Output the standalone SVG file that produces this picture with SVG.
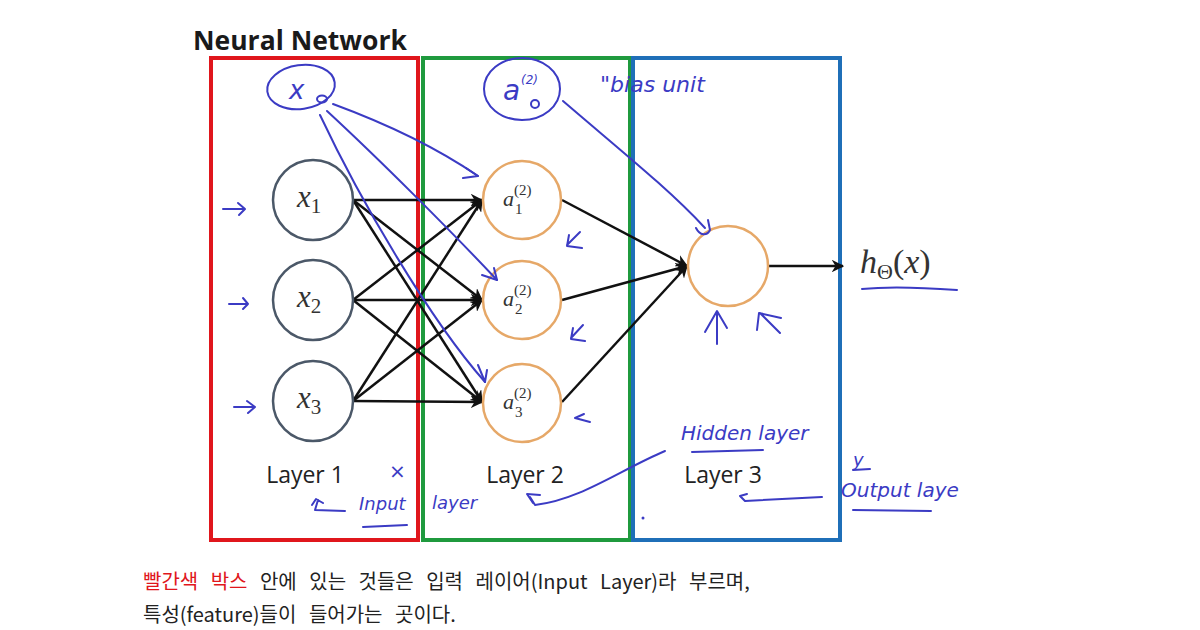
<svg xmlns="http://www.w3.org/2000/svg" width="1200" height="630" viewBox="0 0 1200 630">
<defs>
<style>
.box{fill:none;stroke-width:4}
.inn{fill:#fff;stroke:#4b5868;stroke-width:2.5}
.hid{fill:#fff;stroke:#e6a868;stroke-width:2.5}
.edge{stroke:#111;stroke-width:2.5;fill:none}
.ink{stroke:#3b3bc4;stroke-width:2;fill:none;stroke-linecap:round;stroke-linejoin:round}
.hand{fill:#3b3bc4;font-family:"DejaVu Sans",sans-serif;font-style:italic}
.math{font-family:"Liberation Serif","DejaVu Serif",serif;font-style:italic;fill:#333}
.mathn{font-family:"Liberation Serif","DejaVu Serif",serif;fill:#333}
.lbl{font-family:"Open Sans","Liberation Sans",sans-serif;font-size:23px;fill:#222}
.cap{font-family:"Noto Sans CJK KR","Noto Sans",sans-serif;font-size:20px;fill:#222;word-spacing:8px}
</style>
<marker id="ah" viewBox="0 0 10 10" refX="9" refY="5" markerWidth="5" markerHeight="5" orient="auto" markerUnits="strokeWidth">
<path d="M0,0 L10,5 L0,10 L3,5 z" fill="#111"/>
</marker>
</defs>
<rect width="1200" height="630" fill="#fff"/>
<text x="193" y="50" font-family="Open Sans,Liberation Sans,sans-serif" font-weight="bold" font-size="26.5" fill="#1a1a1a">Neural Network</text>

<g id="boxes">
<rect class="box" x="211" y="58" width="207" height="482" stroke="#e0161c"/>
<rect class="box" x="423" y="58" width="207" height="482" stroke="#1f9a3e"/>
<rect class="box" x="633" y="58" width="207" height="482" stroke="#1f6fb8"/>
</g>

<g id="connectors">
<line class="edge" x1="353" y1="200" x2="482" y2="200" marker-end="url(#ah)"/>
<line class="edge" x1="353" y1="200" x2="482" y2="300" marker-end="url(#ah)"/>
<line class="edge" x1="353" y1="200" x2="482" y2="402" marker-end="url(#ah)"/>
<line class="edge" x1="353" y1="300" x2="482" y2="200" marker-end="url(#ah)"/>
<line class="edge" x1="353" y1="300" x2="482" y2="300" marker-end="url(#ah)"/>
<line class="edge" x1="353" y1="300" x2="482" y2="402" marker-end="url(#ah)"/>
<line class="edge" x1="353" y1="401" x2="482" y2="200" marker-end="url(#ah)"/>
<line class="edge" x1="353" y1="401" x2="482" y2="300" marker-end="url(#ah)"/>
<line class="edge" x1="353" y1="401" x2="482" y2="402" marker-end="url(#ah)"/>
<line class="edge" x1="562" y1="200" x2="687" y2="266" marker-end="url(#ah)"/>
<line class="edge" x1="562" y1="300" x2="687" y2="266" marker-end="url(#ah)"/>
<line class="edge" x1="562" y1="402" x2="687" y2="266" marker-end="url(#ah)"/>
<line class="edge" x1="768" y1="266" x2="843" y2="266" marker-end="url(#ah)"/>
</g>

<g id="x1"><circle class="inn" cx="313" cy="200" r="40"/><text class="math" x="297" y="207" font-size="31">x<tspan class="mathn" font-style="normal" font-size="21" dy="6">1</tspan></text></g>
<g id="x2"><circle class="inn" cx="313" cy="300" r="40"/><text class="math" x="297" y="307" font-size="31">x<tspan class="mathn" font-style="normal" font-size="21" dy="6">2</tspan></text></g>
<g id="x3"><circle class="inn" cx="313" cy="401" r="40"/><text class="math" x="297" y="408" font-size="31">x<tspan class="mathn" font-style="normal" font-size="21" dy="6">3</tspan></text></g>

<g id="a1"><circle class="hid" cx="522" cy="200" r="39"/><text class="math" x="503" y="206" font-size="22">a<tspan font-style="normal" font-size="15" dy="-11">(2)</tspan></text><text class="mathn" x="515" y="214" font-size="15">1</text></g>
<g id="a2"><circle class="hid" cx="522" cy="300" r="39"/><text class="math" x="503" y="306" font-size="22">a<tspan font-style="normal" font-size="15" dy="-11">(2)</tspan></text><text class="mathn" x="515" y="314" font-size="15">2</text></g>
<g id="a3"><circle class="hid" cx="522" cy="403" r="39"/><text class="math" x="503" y="409" font-size="22">a<tspan font-style="normal" font-size="15" dy="-11">(2)</tspan></text><text class="mathn" x="515" y="417" font-size="15">3</text></g>

<g id="out"><circle class="hid" cx="728" cy="266" r="40"/></g>

<g id="hlabel"><text class="math" x="860" y="273" font-size="34">h<tspan font-style="normal" font-size="22" dy="6">Θ</tspan><tspan font-style="normal" dy="-6">(</tspan>x<tspan font-style="normal">)</tspan></text></g>

<g id="layers">
<text class="lbl" x="305" y="483" text-anchor="middle">Layer 1</text>
<text class="lbl" x="525" y="483" text-anchor="middle">Layer 2</text>
<text class="lbl" x="723" y="483" text-anchor="middle">Layer 3</text>
</g>

<g id="annotations">
<ellipse class="ink" cx="301" cy="87" rx="34" ry="22" transform="rotate(-8 301 87)"/>
<text class="hand" x="289" y="99" font-size="26">x</text>
<ellipse class="ink" cx="322" cy="99" rx="5" ry="3.5"/>
<path class="ink" d="M333,104 C390,125 440,150 478,176"/>
<path class="ink" d="M466,168 L478,176 L463,178"/>
<path class="ink" d="M327,111 C380,160 450,230 497,280"/>
<path class="ink" d="M482,275 L497,280 L494,268"/>
<path class="ink" d="M320,115 C360,200 430,320 485,382"/>
<path class="ink" d="M478,365 L485,382 L487,370"/>

<ellipse class="ink" cx="522" cy="89" rx="38" ry="31"/>
<text class="hand" x="503" y="100" font-size="28">a</text>
<text class="hand" x="521" y="84" font-size="12">(2)</text>
<ellipse class="ink" cx="535" cy="104" rx="4" ry="4"/>
<path class="ink" d="M563,101 C620,150 670,190 705,228"/>
<path class="ink" d="M696,228 C700,236 707,236 710,230 L708,220"/>
<text class="hand" x="600" y="92" font-size="22">"bias  unit</text>

<path class="ink" d="M223,209 L244,209 M238,203 L245,209 L239,215"/>
<path class="ink" d="M229,304 L248,304 M243,298 L248,304 L243,309"/>
<path class="ink" d="M234,407 L254,407 M247,401 L255,407 L248,413"/>

<path class="ink" d="M567,245 L580,232 M569,235 L567,246 L582,248"/>
<path class="ink" d="M571,338 L583,325 M573,328 L571,339 L585,341"/>
<path class="ink" d="M584,414 L575,418 L590,422"/>

<path class="ink" d="M717,344 L717,312 M705,332 L717,311 L727,328"/>
<path class="ink" d="M780,333 L760,313 M757,330 L759,313 L781,318"/>

<path class="ink" d="M862,289 C890,286 930,288 957,290"/>

<text class="hand" x="389" y="478" font-size="20">×</text>
<path class="ink" d="M345,511 L315,510 L318,500 M312,505 L316,499 L323,503"/>
<text class="hand" x="359" y="510" font-size="18">Input</text>
<path class="ink" d="M363,527 L407,525"/>
<text class="hand" x="432" y="509" font-size="18">layer</text>

<path class="ink" d="M665,451 C620,470 580,500 535,505 L530,497"/>
<path class="ink" d="M533,503 L527,494 L540,495"/>
<text class="hand" x="681" y="440" font-size="20">Hidden layer</text>
<path class="ink" d="M692,452 L763,450"/>
<path class="ink" d="M822,497 L745,501 L740,496 L747,494"/>
<text class="hand" x="853" y="466" font-size="18">y</text>
<path class="ink" d="M853,470 L870,469"/>
<text class="hand" x="841" y="497" font-size="20">Output laye</text>
<path class="ink" d="M853,510 L931,511"/>
<circle cx="643" cy="518" r="1.5" fill="#3b3bc4"/>
</g>

<g id="caption">
<text class="cap" x="143" y="589"><tspan fill="#e0161c">빨간색 박스</tspan> 안에 있는 것들은 입력 레이어(Input Layer)라 부르며,</text>
<text class="cap" x="143" y="622">특성(feature)들이 들어가는 곳이다.</text>
</g>
</svg>
